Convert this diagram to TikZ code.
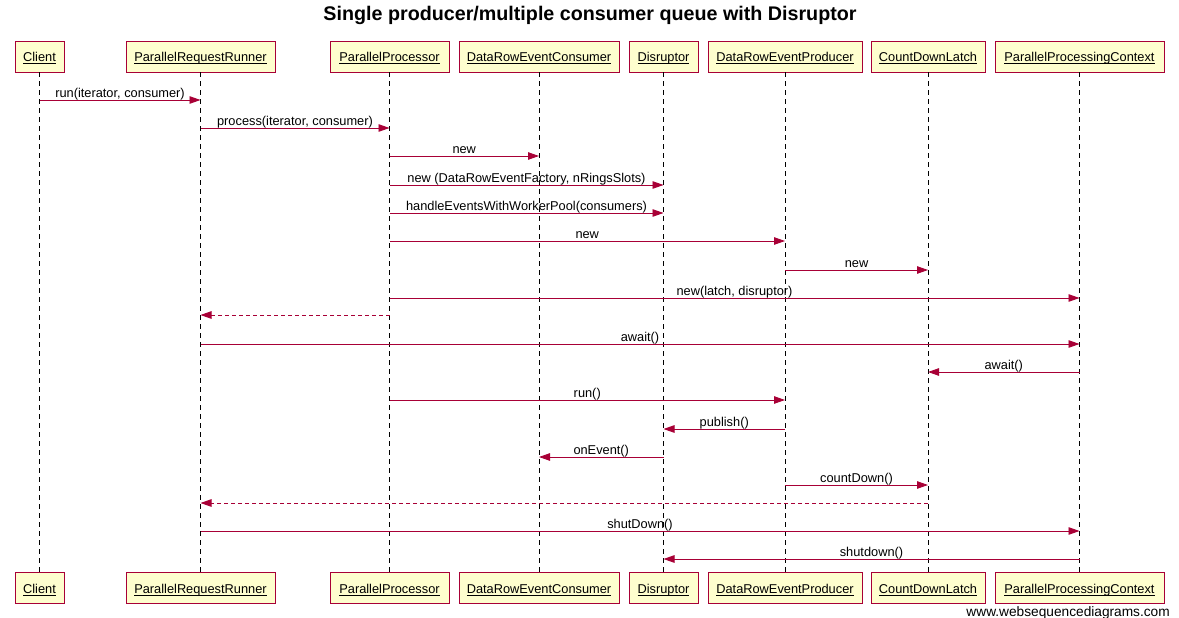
\documentclass[tikz,border=0pt]{standalone}
\usepackage{fontspec}
\setmainfont{Liberation Sans}
\usetikzlibrary{arrows.meta}
\definecolor{umlred}{HTML}{A80036}
\definecolor{umlfill}{HTML}{FEFECE}
\newcommand{\ulname}[1]{\underline{\smash{#1}}}
\begin{document}
\begin{tikzpicture}[x=1pt,y=-1pt,
  actor/.style={draw=umlred,fill=umlfill,line width=0.9pt,minimum height=31pt,inner sep=0pt,
    text height=12pt,text depth=1pt,font=\fontsize{12.8}{14}\selectfont},
  life/.style={draw=black,line width=0.9pt,dash pattern=on 5pt off 4pt},
  msg/.style={draw=umlred,line width=0.9pt,-{Triangle[length=11pt,width=7.5pt]}},
  ret/.style={msg,dash pattern=on 4pt off 3pt},
  lbl/.style={anchor=base,inner sep=0pt,font=\fontsize{12.8}{14}\selectfont,yshift=2.5pt}]
\useasboundingbox (0,0) rectangle (1179,618);
\node[font=\bfseries\fontsize{19.7}{22}\selectfont,anchor=base] (title) at (590,21) {Single producer/multiple consumer queue with Disruptor};
% top boxes
\node[actor,minimum width=49pt]  (cliT) at (39.5,56.5) {\ulname{Client}};
\node[actor,minimum width=149pt] (prrT) at (200.5,56.5) {\ulname{ParallelRequestRunner}};
\node[actor,minimum width=119pt] (ppT)  at (389.5,56.5) {\ulname{ParallelProcessor}};
\node[actor,minimum width=160pt] (drcT) at (539,56.5) {\ulname{DataRowEventConsumer}};
\node[actor,minimum width=69pt]  (disT) at (663.5,56.5) {\ulname{Disruptor}};
\node[actor,minimum width=154pt] (drpT) at (785,56.5) {\ulname{DataRowEventProducer}};
\node[actor,minimum width=114pt] (cdlT) at (928,56.5) {\ulname{CountDownLatch}};
\node[actor,minimum width=169pt] (ppcT) at (1079.5,56.5) {\ulname{ParallelProcessingContext}};
% bottom boxes
\node[actor,minimum width=49pt]  (cliB) at (39.5,588) {\ulname{Client}};
\node[actor,minimum width=149pt] (prrB) at (200.5,588) {\ulname{ParallelRequestRunner}};
\node[actor,minimum width=119pt] (ppB)  at (389.5,588) {\ulname{ParallelProcessor}};
\node[actor,minimum width=160pt] (drcB) at (539,588) {\ulname{DataRowEventConsumer}};
\node[actor,minimum width=69pt]  (disB) at (663.5,588) {\ulname{Disruptor}};
\node[actor,minimum width=154pt] (drpB) at (785,588) {\ulname{DataRowEventProducer}};
\node[actor,minimum width=114pt] (cdlB) at (928,588) {\ulname{CountDownLatch}};
\node[actor,minimum width=169pt] (ppcB) at (1079.5,588) {\ulname{ParallelProcessingContext}};
% lifelines
\foreach \a in {cli,prr,pp,drc,dis,drp,cdl,ppc}{
  \draw[life] (\a T.south) -- (\a B.north);
}
% messages
\draw[msg] (cliT |- 0,100) -- node[lbl]{run(iterator, consumer)} (prrT |- 0,100);
\draw[msg] (prrT |- 0,128) -- node[lbl]{process(iterator, consumer)} (ppT |- 0,128);
\draw[msg] (ppT |- 0,156) -- node[lbl]{new} (drcT |- 0,156);
\draw[msg] (ppT |- 0,185) -- node[lbl]{new (DataRowEventFactory, nRingsSlots)} (disT |- 0,185);
\draw[msg] (ppT |- 0,213) -- node[lbl]{handleEventsWithWorkerPool(consumers)} (disT |- 0,213);
\draw[msg] (ppT |- 0,241) -- node[lbl]{new} (drpT |- 0,241);
\draw[msg] (drpT |- 0,270) -- node[lbl]{new} (cdlT |- 0,270);
\draw[msg] (ppT |- 0,298) -- node[lbl]{new(latch, disruptor)} (ppcT |- 0,298);
\draw[ret] (ppT |- 0,315) -- (prrT |- 0,315);
\draw[msg] (prrT |- 0,344) -- node[lbl]{await()} (ppcT |- 0,344);
\draw[msg] (ppcT |- 0,372) -- node[lbl]{await()} (cdlT |- 0,372);
\draw[msg] (ppT |- 0,400) -- node[lbl]{run()} (drpT |- 0,400);
\draw[msg] (drpT |- 0,429) -- node[lbl]{publish()} (disT |- 0,429);
\draw[msg] (disT |- 0,457) -- node[lbl]{onEvent()} (drcT |- 0,457);
\draw[msg] (drpT |- 0,485) -- node[lbl]{countDown()} (cdlT |- 0,485);
\draw[ret] (cdlT |- 0,503) -- (prrT |- 0,503);
\draw[msg] (prrT |- 0,531) -- node[lbl]{shutDown()} (ppcT |- 0,531);
\draw[msg] (ppcT |- 0,559) -- node[lbl]{shutdown()} (disT |- 0,559);
\node[anchor=base east,inner sep=0pt,font=\fontsize{13.7}{15}\selectfont] (wsd) at (1170,616) {www.websequencediagrams.com};
\end{tikzpicture}
\end{document}
